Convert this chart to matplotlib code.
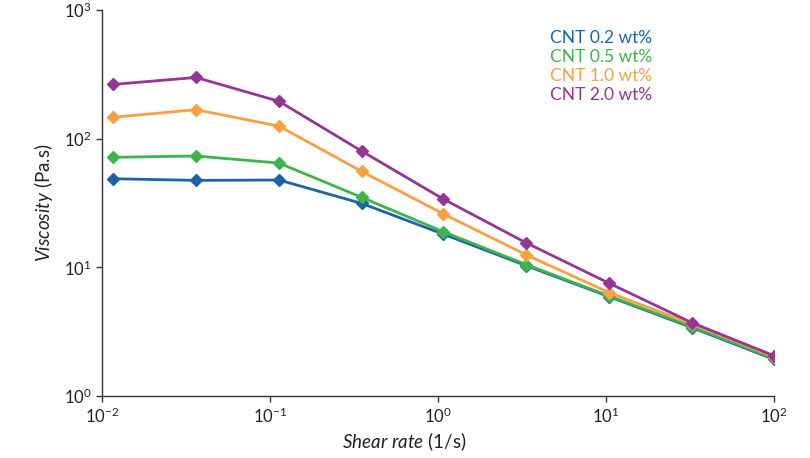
import matplotlib.pyplot as plt

# --------------------------------------------------
# data
# --------------------------------------------------

shear_rate = [0.0117, 0.0364, 0.1135, 0.352, 1.08, 3.36, 10.5, 32.6, 100]

visc_02 = [48.8, 47.4, 47.7, 31.4, 18.1, 10.3, 5.91, 3.40, 1.93]
visc_05 = [71.6, 73.3, 64.6, 35.0, 18.9, 10.5, 5.98, 3.46, 1.96]
visc_10 = [146.5, 168, 125, 55.7, 26.0, 12.5, 6.35, 3.63, 2.02]
visc_20 = [264, 299, 195, 80.1, 33.9, 15.5, 7.51, 3.71, 2.06]

labels = ["CNT 0.2 wt%", "CNT 0.5 wt%", "CNT 1.0 wt%", "CNT 2.0 wt%"]
colors = ["#1b64a7", "#3db54a", "#f9a043", "#953595"]

# --------------------------------------------------
# style
# --------------------------------------------------

plt.rcParams["font.family"] = ["Lato", "DejaVu Sans"]
plt.rcParams["mathtext.fontset"] = "custom"
plt.rcParams["mathtext.rm"] = "Lato"
plt.rcParams["mathtext.it"] = "Lato:italic"

# --------------------------------------------------
# plot
# --------------------------------------------------

fig = plt.figure(figsize=(8.1, 4.58), dpi=100)
ax = fig.add_axes([0.1257, 0.1354, 0.8295, 0.8428])

for y, lab, c in zip([visc_02, visc_05, visc_10, visc_20], labels, colors):
    ax.plot(shear_rate, y, color=c, lw=2, marker="D", ms=6, label=lab)

ax.set_xscale("log")
ax.set_yscale("log")
ax.set_xlim(1e-2, 1e2)
ax.set_ylim(1e0, 1e3)
ax.minorticks_off()

for s in ["top", "right"]:
    ax.spines[s].set_visible(False)
for s in ["left", "bottom"]:
    ax.spines[s].set_color("#333333")
    ax.spines[s].set_linewidth(1)

ax.tick_params(axis="both", length=4, width=1, color="#333333",
               labelsize=12, labelcolor="#222222")

ax.set_xlabel(r"$\it{Shear\ rate}$ (1/s)", fontsize=13.5, color="#222222")
ax.xaxis.set_label_coords(0.45, -0.09)
ax.set_ylabel(r"$\it{Viscosity}$ (Pa.s)", fontsize=13.5, color="#222222", labelpad=6)

leg = ax.legend(loc="upper left", bbox_to_anchor=(0.667, 0.948), frameon=False,
                borderpad=0, borderaxespad=0,
                handlelength=0, handletextpad=0, labelspacing=0.18,
                fontsize=12.5, labelcolor="linecolor")
for h in leg.legend_handles:
    h.set_visible(False)

plt.savefig("out.png", dpi=100)
